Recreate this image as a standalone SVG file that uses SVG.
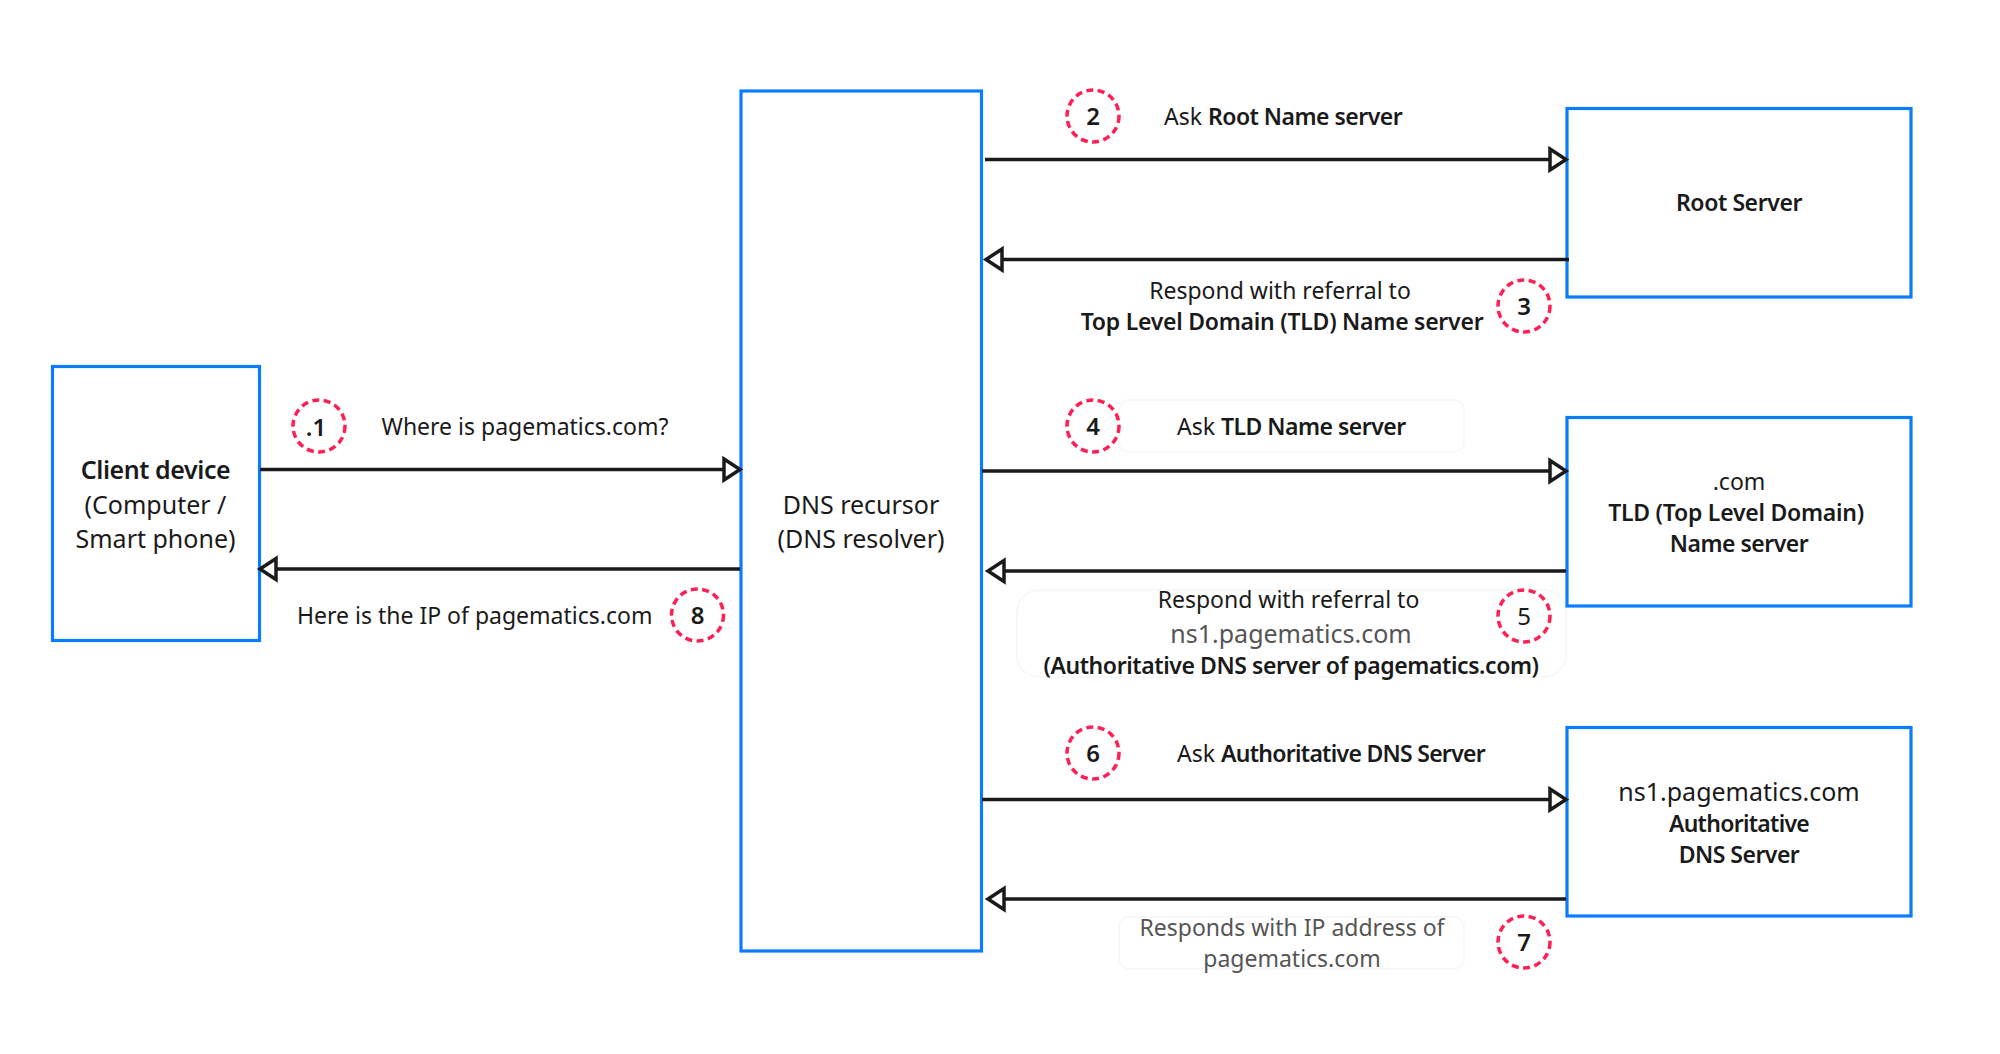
<svg xmlns="http://www.w3.org/2000/svg" width="2000" height="1054" viewBox="0 0 2000 1054">
<style>
text{font-family:"Noto Sans","Open Sans",sans-serif;fill:#1a1a1a;font-size:23px}
.m{text-anchor:middle}
.b{font-weight:600}
.s3{letter-spacing:-.25px}
.s4{letter-spacing:-.42px}
.s5{letter-spacing:-.52px}
.s7{letter-spacing:-.72px}
.g{fill:#555}
.n{font-size:25px}
.box{fill:#fff;stroke:#0a7cff;stroke-width:3.2}
.lab{fill:#fff;stroke:#f6f6f6;stroke-width:1.5}
.c{fill:#fff;stroke:#ff1f55;stroke-width:3.5;stroke-dasharray:7 4.5}
.d{font-size:24px;font-weight:600;text-anchor:middle}
.l{fill:none;stroke:#1a1a1a;stroke-width:3.5}
</style>
<defs>
<marker id="a" markerUnits="userSpaceOnUse" markerWidth="24" markerHeight="30" refX="18" refY="12" orient="auto-start-reverse" viewBox="0 0 24 24"><path d="M2 1.5L18 12L2 22.5Z" fill="#fff" stroke="#1a1a1a" stroke-width="3.5"/></marker>
</defs>
<g id="label-bg">
<rect class="lab" x="1119" y="400" width="345" height="52" rx="10"/>
<rect class="lab" x="1017" y="590" width="549" height="87" rx="22"/>
<rect class="lab" x="1119" y="917" width="345" height="52" rx="10"/>
</g>
<g id="client"><rect class="box" x="52.500" y="366.500" width="207" height="274"/>
<text class="m n b s4" x="155.500" y="479">Client device</text><text class="m n" x="155.500" y="514">(Computer /</text><text class="m n" x="155.500" y="548">Smart phone)</text></g>
<g id="recursor"><rect class="box" x="741" y="91" width="240.500" height="860"/>
<text class="m n" x="861" y="514">DNS recursor</text><text class="m n" x="861" y="548">(DNS resolver)</text></g>
<g id="root"><rect class="box" x="1567" y="108.500" width="344" height="188.500"/>
<text class="m b s4" x="1739" y="211">Root Server</text></g>
<g id="tld"><rect class="box" x="1567" y="417.500" width="344" height="188.500"/>
<text class="m" x="1739" y="490">.com</text><text class="m b s3" x="1736" y="521">TLD (Top Level Domain)</text><text class="m b s5" x="1739" y="552">Name server</text></g>
<g id="auth"><rect class="box" x="1567" y="727.500" width="344" height="188.500"/>
<text class="m n" x="1739" y="801">ns1.pagematics.com</text><text class="m b s7" x="1739" y="832">Authoritative</text><text class="m b s5" x="1739" y="863">DNS Server</text></g>
<g id="connectors">
<path class="l" d="M260 469.500H740" marker-end="url(#a)"/>
<path class="l" d="M740 569H260" marker-end="url(#a)"/>
<path class="l" d="M985 159.500H1566" marker-end="url(#a)"/>
<path class="l" d="M1569 259.500H986" marker-end="url(#a)"/>
<path class="l" d="M982 471H1566" marker-end="url(#a)"/>
<path class="l" d="M1566 571H988" marker-end="url(#a)"/>
<path class="l" d="M982 799.500H1566" marker-end="url(#a)"/>
<path class="l" d="M1566 899H988" marker-end="url(#a)"/>
</g>
<g id="step1"><circle class="c" cx="319" cy="426" r="26"/><text class="d" x="316" y="436">.1</text></g>
<g id="step2"><circle class="c" cx="1093" cy="116" r="26"/><text class="d" x="1093" y="125">2</text></g>
<g id="step3"><circle class="c" cx="1524" cy="306" r="26"/><text class="d" x="1524" y="315">3</text></g>
<g id="step4"><circle class="c" cx="1093" cy="426" r="26"/><text class="d" x="1093" y="435">4</text></g>
<g id="step5"><circle class="c" cx="1524" cy="616" r="26"/><text class="d" x="1524" y="625" style="font-weight:400">5</text></g>
<g id="step6"><circle class="c" cx="1093" cy="753" r="26"/><text class="d" x="1093" y="762">6</text></g>
<g id="step7"><circle class="c" cx="1524" cy="942" r="26"/><text class="d" x="1524" y="951">7</text></g>
<g id="step8"><circle class="c" cx="697.500" cy="615" r="26"/><text class="d" x="697.500" y="624">8</text></g>
<g id="labels">
<text x="381.500" y="435">Where is pagematics.com?</text>
<text x="297" y="624">Here is the IP of pagematics.com</text>
<text x="1164" y="125">Ask <tspan class="b s5">Root Name server</tspan></text>
<text class="m" x="1280" y="298.500">Respond with referral to</text>
<text class="m b s3" x="1282" y="330">Top Level Domain (TLD) Name server</text>
<text x="1177" y="434.500">Ask <tspan class="b s5">TLD Name server</tspan></text>
<text class="m" x="1288.500" y="608">Respond with referral to</text>
<text class="m g n" x="1291" y="643">ns1.pagematics.com</text>
<text class="m b s4" x="1291" y="674">(Authoritative DNS server of pagematics.com)</text>
<text x="1177" y="762">Ask <tspan class="b s7">Authoritative DNS Server</tspan></text>
<text class="m g" x="1292" y="936">Responds with IP address of</text>
<text class="m g" x="1292" y="967">pagematics.com</text>
</g>
</svg>
